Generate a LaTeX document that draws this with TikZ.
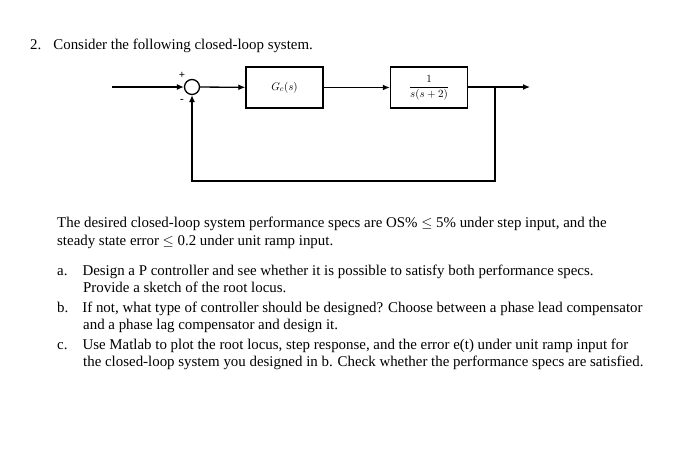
\documentclass[tikz,border=0pt]{standalone}
\usepackage{amsmath,amssymb}
\usepackage{fontspec}
\setmainfont{Liberation Serif}
\usetikzlibrary{arrows.meta}
\begin{document}
\begin{tikzpicture}[x=1pt,y=-1pt,
  txt/.style={anchor=base west,inner sep=0pt,font=\fontsize{14.9}{17}\selectfont},
  blk/.style={draw,line width=1.4pt,minimum width=77pt,minimum height=41pt,inner sep=0pt},
  wire/.style={line width=1.3pt},
  arr/.style={wire,-{Latex[length=7pt,width=6pt]}},
  lab/.style={inner sep=0pt,font=\bfseries\fontsize{11}{12}\selectfont}]
\useasboundingbox (0,0) rectangle (700,466);
\node[txt] (t0) at (30,49) {2.\hspace{12pt}Consider the following closed-loop system.};
\node[draw,circle,line width=1.3pt,minimum size=15pt,inner sep=0pt] (s) at (192,87) {};
\coordinate (in) at (112,87);
\node[blk] (g1) at (284.5,87.5) {\fontsize{11}{12}\selectfont$G_c(s)$};
\node[blk] (g2) at (429,87.5) {\fontsize{11}{12}\selectfont$\dfrac{1}{s(s+2)}$};
\coordinate (tap) at (495,87);
\coordinate (out) at (530,87);
\coordinate (fb) at (495,181);
\node[lab] (plus) at (182,75) {+};
\node[lab] (minus) at (182,101) {-};
\draw[arr] (in) -- (s);
\draw[arr] (s) -- (g1);
\draw[arr] (g1) -- (g2);
\draw[arr] (g2.east |- tap) -- (out);
\draw[arr] (tap) -- (fb) -| (s);
\node[txt] (p1) at (57,227) {The desired closed-loop system performance specs are OS\% $\leq$ 5\% under step input, and the};
\node[txt] (p2) at (57,245) {steady state error $\leq$ 0.2 under unit ramp input.};
\node[txt] (a1) at (57,275) {a.\hspace{15pt}Design a P controller and see whether it is possible to satisfy both performance specs.};
\node[txt] (a2) at (83,292) {Provide a sketch of the root locus.};
\node[txt] (b1) at (57,312) {b.\hspace{14pt}If not, what type of controller should be designed? Choose between a phase lead compensator};
\node[txt] (b2) at (83,329) {and a phase lag compensator and design it.};
\node[txt] (c1) at (57,349) {c.\hspace{15pt}Use Matlab to plot the root locus, step response, and the error e(t) under unit ramp input for};
\node[txt] (c2) at (83,366) {the closed-loop system you designed in b. Check whether the performance specs are satisfied.};
\end{tikzpicture}
\end{document}
